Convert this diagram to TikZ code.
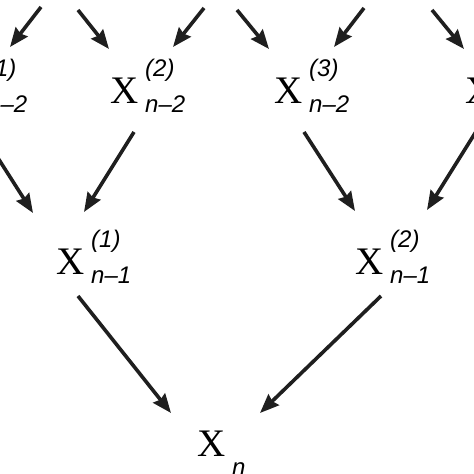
\documentclass[tikz,border=0pt]{standalone}
\usepackage{fontspec}
\setmainfont{Liberation Serif}
\newfontfamily\idxfam{Liberation Sans}
\usetikzlibrary{arrows.meta}
\newcommand{\idx}{\idxfam\itshape\fontsize{24}{24}\selectfont}
\newcommand{\xlbl}[2]{{\fontsize{39}{39}\selectfont X}\hspace{7pt}\rlap{\raisebox{27pt}{\idx #1}}\raisebox{-9pt}{\idx #2}}
\begin{document}
\begin{tikzpicture}[x=1pt,y=1pt,
  lbl/.style={inner sep=0pt,outer sep=0pt,anchor=base west},
  arr/.style={line width=3.6pt,color=black!88,-{Stealth[length=19pt,width=15pt,inset=2pt]}}]
\useasboundingbox (0,0) rectangle (474,474);
\clip (0,0) rectangle (474,474);
\node[lbl] (n2a) at (-48,370) {\xlbl{(1)}{n\textendash2}};
\node[lbl] (n2b) at (110,370) {\xlbl{(2)}{n\textendash2}};
\node[lbl] (n2c) at (274,370) {\xlbl{(3)}{n\textendash2}};
\node[lbl] (n2d) at (465,370) {\xlbl{(4)}{n\textendash2}};
\node[lbl] (n1a) at (56,199) {\xlbl{(1)}{n\textendash1}};
\node[lbl] (n1b) at (355,199) {\xlbl{(2)}{n\textendash1}};
\node[lbl] (n0) at (197,17) {{\fontsize{39}{39}\selectfont X}\hspace{7pt}\raisebox{-19pt}{\idx n}};
\coordinate (ta1) at (41,467);
\coordinate (tb1) at (78,464);
\coordinate (tb2) at (204,466);
\coordinate (tc1) at (237,464);
\coordinate (tc2) at (364,466);
\coordinate (td1) at (432,464);
\draw[arr] (ta1) -- ([shift={(58,57)}]n2a.base west);
\draw[arr] (tb1) -- ([shift={(-1,55)}]n2b.base west);
\draw[arr] (tb2) -- ([shift={(63,57)}]n2b.base west);
\draw[arr] (tc1) -- ([shift={(-5,55)}]n2c.base west);
\draw[arr] (tc2) -- ([shift={(60,57)}]n2c.base west);
\draw[arr] (td1) -- ([shift={(-1,55)}]n2d.base west);
\draw[arr] ([shift={(30,-29)}]n2a.base west) -- ([shift={(-23,62)}]n1a.base west);
\draw[arr] ([shift={(24,-28)}]n2b.base west) -- ([shift={(28,63)}]n1a.base west);
\draw[arr] ([shift={(30,-28)}]n2c.base west) -- ([shift={(0,64)}]n1b.base west);
\draw[arr] ([shift={(12,-26)}]n2d.base west) -- ([shift={(72,65)}]n1b.base west);
\draw[arr] ([shift={(22,-21)}]n1a.base west) -- ([shift={(-26,44)}]n0.base west);
\draw[arr] ([shift={(26,-21)}]n1b.base west) -- ([shift={(63,44)}]n0.base west);
\end{tikzpicture}
\end{document}
